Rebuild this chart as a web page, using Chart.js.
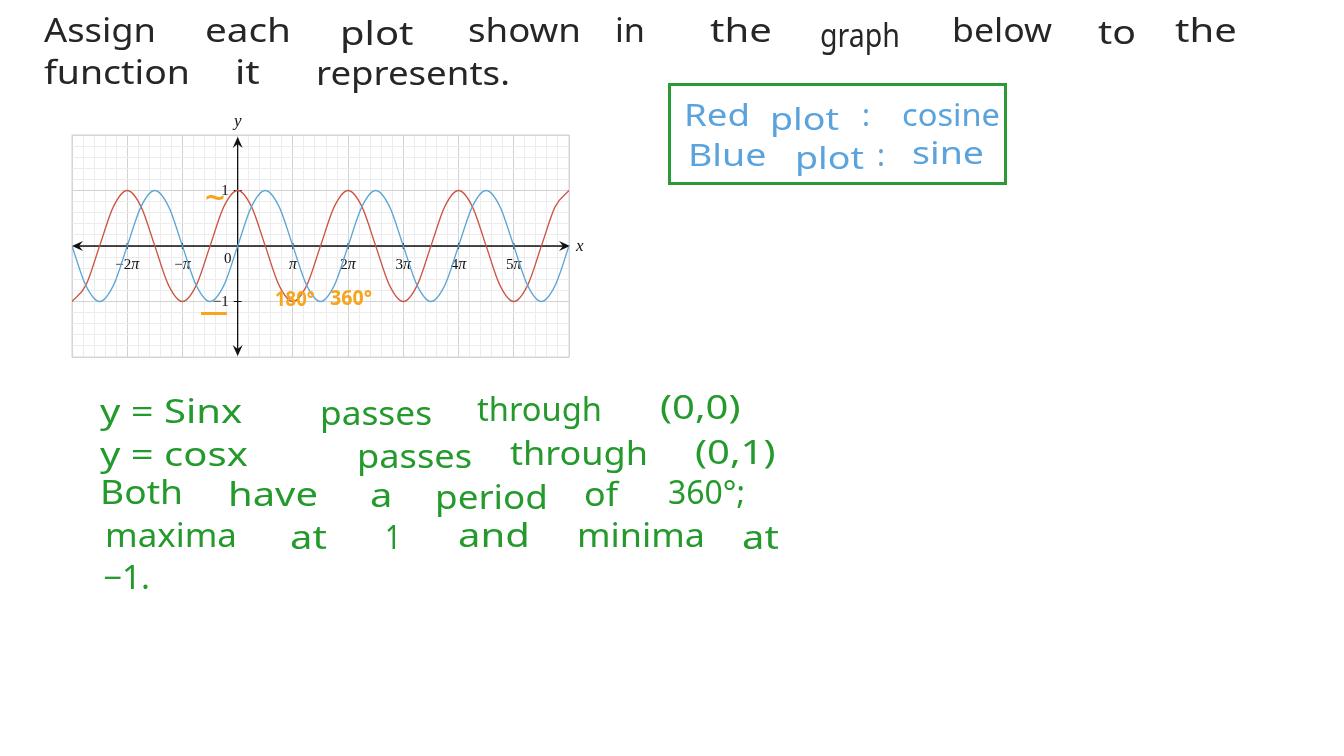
<!DOCTYPE html>
<html>
<head>
<meta charset="utf-8">
<script src="https://cdn.jsdelivr.net/npm/chart.js@4/dist/chart.umd.min.js"></script>
<style>
  html, body { margin: 0; padding: 0; background: #fff; }
  #page { position: relative; width: 1344px; height: 756px; overflow: hidden; }
  #graph { position: absolute; left: 0; top: 0; }
  .word { position: absolute; white-space: nowrap; line-height: 1; font-family: "Noto Sans", sans-serif;
          transform-origin: left center; }
  .ink { color: #262626; }
  .blue { color: #5aa3dc; }
  .green { color: #249a2c; }
  .orange { color: #f5a51e; font-weight: bold; }
  #box { position: absolute; left: 668px; top: 83px; width: 333px; height: 96px; border: 3px solid #2c9a34; }
</style>
</head>
<body>
<div id="page">
  <canvas id="graph" width="1344" height="756"></canvas>
  <div id="box"></div>
</div>
<script>
// x positions in multiples of pi, read at quarter-pi steps
const xPi = [-3, -2.75, -2.5, -2.25, -2, -1.75, -1.5, -1.25, -1, -0.75, -0.5, -0.25,
  0, 0.25, 0.5, 0.75, 1, 1.25, 1.5, 1.75, 2, 2.25, 2.5, 2.75,
  3, 3.25, 3.5, 3.75, 4, 4.25, 4.5, 4.75, 5, 5.25, 5.5, 5.75, 6];

// blue plot (sine)
const sineValues = [0, -0.71, -1, -0.71, 0, 0.71, 1, 0.71, 0, -0.71, -1, -0.71,
  0, 0.71, 1, 0.71, 0, -0.71, -1, -0.71, 0, 0.71, 1, 0.71,
  0, -0.71, -1, -0.71, 0, 0.71, 1, 0.71, 0, -0.71, -1, -0.71, 0];

// red plot (cosine)
const cosineValues = [-1, -0.71, 0, 0.71, 1, 0.71, 0, -0.71, -1, -0.71, 0, 0.71,
  1, 0.71, 0, -0.71, -1, -0.71, 0, 0.71, 1, 0.71, 0, -0.71,
  -1, -0.71, 0, 0.71, 1, 0.71, 0, -0.71, -1, -0.71, 0, 0.71, 1];

const xTickValues = [-2, -1, 1, 2, 3, 4, 5];
const xTickPrefix = ['\u22122', '\u2212', '', '2', '3', '4', '5'];
const yTickValues = [1, -1];
const yTickLabels = ['1', '\u22121'];

// handwritten notes: [text, left, centre y, width, colour, font size]
const notes = [
  ['Assign', 44, 33, 112, 'ink', 32], ['each', 205, 33, 86, 'ink', 32], ['plot', 340, 36, 76, 'ink', 32],
  ['shown', 468, 33, 113, 'ink', 32], ['in', 615, 33, 30, 'ink', 32], ['the', 710, 33, 65, 'ink', 32],
  ['graph', 820, 38, 80, 'ink', 32], ['below', 952, 33, 100, 'ink', 32], ['to', 1098, 35, 38, 'ink', 32],
  ['the', 1175, 33, 66, 'ink', 32],
  ['function', 44, 75, 146, 'ink', 32], ['it', 235, 75, 35, 'ink', 32], ['represents.', 316, 76, 194, 'ink', 32],
  ['Red', 684, 117, 66, 'blue', 30], ['plot', 770, 121, 75, 'blue', 30], [':', 862, 117, 8, 'blue', 30],
  ['cosine', 902, 117, 98, 'blue', 30],
  ['Blue', 688, 157, 80, 'blue', 30], ['plot', 795, 160, 70, 'blue', 30], [':', 877, 157, 8, 'blue', 30],
  ['sine', 912, 155, 83, 'blue', 30],
  ['y = Sinx', 100, 414, 160, 'green', 32], ['passes', 320, 416, 112, 'green', 32],
  ['through', 477, 412, 125, 'green', 32], ['(0,0)', 660, 410, 105, 'green', 32],
  ['y = cosx', 100, 457, 175, 'green', 32], ['passes', 357, 459, 115, 'green', 32],
  ['through', 510, 456, 138, 'green', 32], ['(0,1)', 695, 455, 95, 'green', 32],
  ['Both', 100, 495, 83, 'green', 32], ['have', 228, 497, 90, 'green', 32], ['a', 370, 498, 23, 'green', 32],
  ['period', 435, 500, 113, 'green', 32], ['of', 584, 497, 34, 'green', 32], ['360\u00b0;', 668, 495, 77, 'green', 32],
  ['maxima', 105, 538, 132, 'green', 32], ['at', 290, 540, 43, 'green', 32], ['1', 385, 540, 8, 'green', 32],
  ['and', 458, 538, 72, 'green', 32], ['minima', 577, 538, 128, 'green', 32], ['at', 742, 540, 51, 'green', 32],
  ['\u22121.', 103, 580, 47, 'green', 32],
  ['~', 205, 199, 27, 'orange', 28], ['\u2014', 200, 313, 28, 'orange', 26],
  ['180\u00b0', 275, 300, 37, 'orange', 21], ['360\u00b0', 330, 299, 42, 'orange', 21]
];

const page = document.getElementById('page');
notes.forEach(([text, left, cy, width, cls, size]) => {
  const s = document.createElement('span');
  s.className = 'word ' + cls;
  s.textContent = text;
  s.style.left = left + 'px';
  s.style.top = (cy - size * 0.58) + 'px';
  s.style.fontSize = size + 'px';
  page.appendChild(s);
  const w = s.getBoundingClientRect().width;
  const k = Math.min(1.25, Math.max(0.88, width / w));
  s.style.transform = 'scaleX(' + k.toFixed(3) + ')';
});

const isMajor = v => Math.abs(v - Math.round(v)) < 1e-6;

function arrowHead(ctx, tx, ty, dx, dy) {
  const len = 11, half = 5, notch = 7;
  const px = -dy, py = dx;
  ctx.beginPath();
  ctx.moveTo(tx, ty);
  ctx.lineTo(tx - dx * len + px * half, ty - dy * len + py * half);
  ctx.lineTo(tx - dx * notch, ty - dy * notch);
  ctx.lineTo(tx - dx * len - px * half, ty - dy * len - py * half);
  ctx.closePath();
  ctx.fill();
}

const axesPlugin = {
  id: 'axesPlugin',
  beforeDatasetsDraw(chart) {
    const { ctx, chartArea: a, scales: { x, y } } = chart;
    const x0 = x.getPixelForValue(0);
    const y0 = y.getPixelForValue(0);
    ctx.save();
    ctx.strokeStyle = '#d6d6d6';
    ctx.lineWidth = 1;
    ctx.strokeRect(a.left, a.top, a.right - a.left, a.bottom - a.top);

    ctx.strokeStyle = '#111';
    ctx.fillStyle = '#111';
    ctx.lineWidth = 1.3;
    ctx.beginPath();
    ctx.moveTo(a.left + 3, y0); ctx.lineTo(a.right - 3, y0);
    ctx.moveTo(x0, a.top + 3); ctx.lineTo(x0, a.bottom - 3);
    ctx.stroke();
    arrowHead(ctx, a.right + 1, y0, 1, 0);
    arrowHead(ctx, a.left, y0, -1, 0);
    arrowHead(ctx, x0, a.top + 2, 0, -1);
    arrowHead(ctx, x0, a.bottom - 1, 0, 1);

    ctx.lineWidth = 1.2;
    ctx.beginPath();
    xTickValues.forEach(v => {
      const px = x.getPixelForValue(v);
      ctx.moveTo(px, y0 - 3); ctx.lineTo(px, y0 + 3);
    });
    yTickValues.forEach(v => {
      const py = y.getPixelForValue(v);
      ctx.moveTo(x0 - 4, py); ctx.lineTo(x0 + 4, py);
    });
    ctx.stroke();

    const upright = '15px "Liberation Serif"';
    const italic = 'italic 16px "Liberation Serif"';
    ctx.textBaseline = 'middle';
    xTickValues.forEach((v, i) => {
      const px = x.getPixelForValue(v);
      ctx.font = upright;
      const w1 = ctx.measureText(xTickPrefix[i]).width;
      ctx.font = italic;
      const w2 = ctx.measureText('\u03c0').width;
      const left = px - (w1 + w2) / 2;
      ctx.textAlign = 'left';
      ctx.font = upright;
      ctx.fillText(xTickPrefix[i], left, y0 + 19);
      ctx.font = italic;
      ctx.fillText('\u03c0', left + w1, y0 + 19);
    });
    ctx.font = upright;
    ctx.textAlign = 'center';
    ctx.fillText('0', x0 - 10, y0 + 13);
    ctx.textAlign = 'right';
    yTickValues.forEach((v, i) => {
      ctx.fillText(yTickLabels[i], x0 - 9, y.getPixelForValue(v) + 1);
    });
    ctx.font = 'italic 17px "Liberation Serif"';
    ctx.textAlign = 'left';
    ctx.fillText('x', a.right + 7, y0 + 1);
    ctx.textAlign = 'center';
    ctx.fillText('y', x0, a.top - 13);
    ctx.restore();
  }
};

const gridColor = c => isMajor(c.tick.value) ? '#d2d2d2' : '#ececec';

new Chart(document.getElementById('graph'), {
  type: 'line',
  data: {
    datasets: [
      {
        label: 'sine',
        data: xPi.map((v, i) => ({ x: v, y: sineValues[i] })),
        borderColor: '#5ca6d6',
        borderWidth: 1.3,
        pointRadius: 0,
        cubicInterpolationMode: 'monotone'
      },
      {
        label: 'cosine',
        data: xPi.map((v, i) => ({ x: v, y: cosineValues[i] })),
        borderColor: '#cc5442',
        borderWidth: 1.3,
        pointRadius: 0,
        cubicInterpolationMode: 'monotone'
      }
    ]
  },
  options: {
    responsive: false,
    animation: false,
    layout: { padding: { left: 72, top: 135, right: 775, bottom: 399 } },
    plugins: { legend: { display: false }, tooltip: { enabled: false } },
    scales: {
      x: {
        type: 'linear',
        min: -3,
        max: 6,
        border: { display: false },
        grid: { color: gridColor, drawTicks: false, lineWidth: 1 },
        ticks: { display: false, stepSize: 0.2, autoSkip: false }
      },
      y: {
        type: 'linear',
        min: -2,
        max: 2,
        border: { display: false },
        grid: { color: gridColor, drawTicks: false, lineWidth: 1 },
        ticks: { display: false, stepSize: 0.2, autoSkip: false }
      }
    }
  },
  plugins: [axesPlugin]
});
</script>
</body>
</html>
